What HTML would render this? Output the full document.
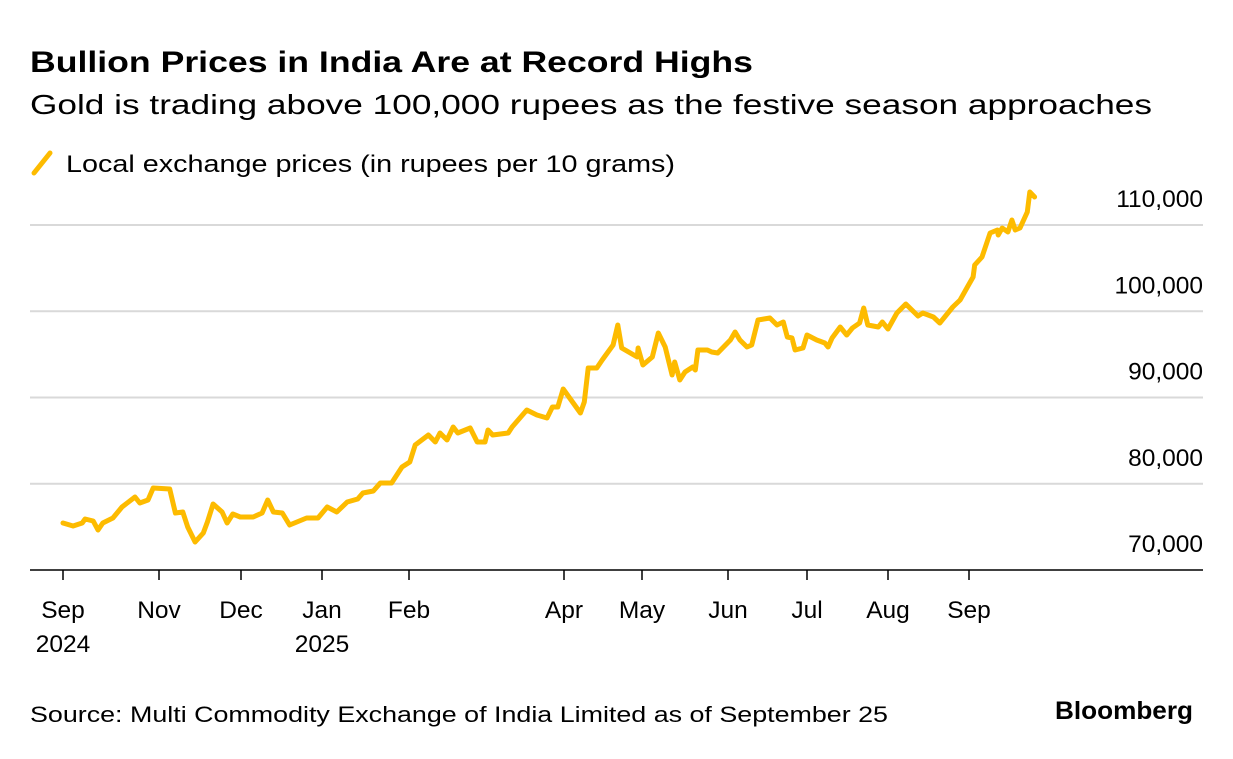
<!DOCTYPE html>
<html><head><meta charset="utf-8"><style>
body{margin:0;background:#fff;font-family:"Liberation Sans",sans-serif;}
svg text{font-family:"Liberation Sans",sans-serif;}
</style></head><body>
<svg width="1233" height="754" xmlns="http://www.w3.org/2000/svg">
<text x="30" y="72" font-size="30" font-weight="bold" fill="#000" textLength="723" lengthAdjust="spacingAndGlyphs">Bullion Prices in India Are at Record Highs</text>
<text x="30" y="114" font-size="28" fill="#000" textLength="1122" lengthAdjust="spacingAndGlyphs">Gold is trading above 100,000 rupees as the festive season approaches</text>
<line x1="34" y1="173" x2="50" y2="153" stroke="#fdbb00" stroke-width="5" stroke-linecap="round"/>
<text x="66" y="172" font-size="24" fill="#000" textLength="609" lengthAdjust="spacingAndGlyphs">Local exchange prices (in rupees per 10 grams)</text>
<g id="grid"></g><g id="xaxis"></g><g id="series"></g>
<text x="30" y="722" font-size="22" fill="#000" textLength="858" lengthAdjust="spacingAndGlyphs">Source: Multi Commodity Exchange of India Limited as of September 25</text>
<text x="1055" y="719" font-size="25" font-weight="bold" fill="#000" textLength="138" lengthAdjust="spacingAndGlyphs">Bloomberg</text>
</svg>
<script>
const yTicks=[70000,80000,90000,100000,110000];
const yTickLabels=["70,000","80,000","90,000","100,000","110,000"];
const xTickMonths=[0,2,3,4,5,7,8,9,10,11,12];
const xTickLabels=["Sep","Nov","Dec","Jan","Feb","Apr","May","Jun","Jul","Aug","Sep"];
const xTickYears=["2024","","","2025","","","","","","",""];
const months=[0,0.21,0.40,0.46,0.63,0.73,0.83,1.04,1.23,1.50,1.60,1.77,1.88,2.13,2.20,2.29,2.35,2.44,2.54,2.59,2.66,2.77,2.83,2.90,2.99,3.15,3.26,3.33,3.40,3.51,3.60,3.81,3.95,4.06,4.17,4.29,4.41,4.47,4.59,4.67,4.80,4.92,5.01,5.08,5.25,5.34,5.40,5.49,5.57,5.63,5.79,5.88,5.98,6.02,6.08,6.28,6.33,6.52,6.65,6.78,6.85,6.92,6.99,7.21,7.26,7.31,7.42,7.49,7.63,7.69,7.74,7.94,7.95,8.01,8.12,8.19,8.27,8.35,8.38,8.44,8.50,8.59,8.62,8.65,8.76,8.81,8.88,9.03,9.09,9.15,9.24,9.30,9.38,9.53,9.62,9.70,9.75,9.81,9.85,9.95,10.00,10.12,10.22,10.26,10.31,10.41,10.49,10.56,10.65,10.70,10.75,10.88,10.93,11.00,11.11,11.22,11.37,11.43,11.56,11.64,11.80,11.89,11.98,12.05,12.07,12.16,12.26,12.35,12.36,12.41,12.48,12.53,12.57,12.63,12.72,12.75,12.81];
const prices=[75450,75100,75450,75910,75680,74640,75450,76030,77300,78460,77770,78120,79510,79390,76610,76720,74990,73250,74290,75570,77650,76720,75450,76490,76150,76150,76610,78120,76720,76610,75220,76030,76030,77300,76720,77880,78230,78930,79160,80090,80090,81940,82520,84490,85650,84840,85880,85070,86580,85880,86460,84840,84840,86230,85650,85880,86580,88550,87970,87620,88900,88900,90990,88200,89480,93420,93420,94350,96090,98410,95740,94700,95740,93770,94700,97480,95860,92610,94120,92030,92960,93540,93190,95510,95510,95280,95160,96670,97590,96670,95860,96090,98990,99220,98410,98750,97010,96900,95510,95740,97250,96670,96320,95860,96900,98170,97250,98060,98640,100380,98410,98170,98750,97940,99800,100840,99450,99800,99330,98640,100490,101300,102810,103970,105360,106290,109070,109420,108840,109650,109190,110580,109420,109650,111510,113830,113250];
const NS="http://www.w3.org/2000/svg";
const anchorM=[0,2,3,4,5,7,8,9,10,11,12,13];
const anchorX=[63,159,241,322,409,564,642,728,807,888,969,1050];
function xScale(m){for(let i=0;i<anchorM.length-1;i++){if(m<=anchorM[i+1]||i===anchorM.length-2){return anchorX[i]+(m-anchorM[i])/(anchorM[i+1]-anchorM[i])*(anchorX[i+1]-anchorX[i]);}}}
function yScale(v){return 570-(v-70000)*0.008625;}
function mk(t,a,p){const e=document.createElementNS(NS,t);for(const k in a)e.setAttribute(k,a[k]);p.appendChild(e);return e;}
const grid=document.getElementById('grid');
yTicks.forEach((v,i)=>{
  if(i>0){const l=mk('line',{x1:30,x2:1203,y1:yScale(v),y2:yScale(v),stroke:'#d9d9d9','stroke-width':2},grid);
  
  }
  const t=mk('text',{x:1203,y:yScale(v)-18,'font-size':24.5,'text-anchor':'end',fill:'#000'},grid);
  t.textContent=yTickLabels[i];
  
  
});
const xa=document.getElementById('xaxis');
const base=mk('line',{x1:30,x2:1203,y1:570,y2:570,stroke:'#000','stroke-width':1.5},xa);


xTickMonths.forEach((m,i)=>{
  const x=xScale(m);
  const tk=mk('line',{x1:x,x2:x,y1:570,y2:580,stroke:'#000','stroke-width':1.5},xa);
  
  
  const t=mk('text',{x:x,y:618,'font-size':24.5,'text-anchor':'middle',fill:'#000'},xa);
  t.textContent=xTickLabels[i];
  
  
  if(xTickYears[i]){const y=mk('text',{x:x,y:652,'font-size':24.5,'text-anchor':'middle',fill:'#000'},xa);
  y.textContent=xTickYears[i];
  
  }
});
const d=months.map((m,i)=>(i?'L':'M')+xScale(m).toFixed(1)+','+yScale(prices[i]).toFixed(1)).join('');
const p=mk('path',{d:d,fill:'none',stroke:'#fdbb00','stroke-width':5,'stroke-linejoin':'round','stroke-linecap':'round'},document.getElementById('series'));


</script>
</body></html>
